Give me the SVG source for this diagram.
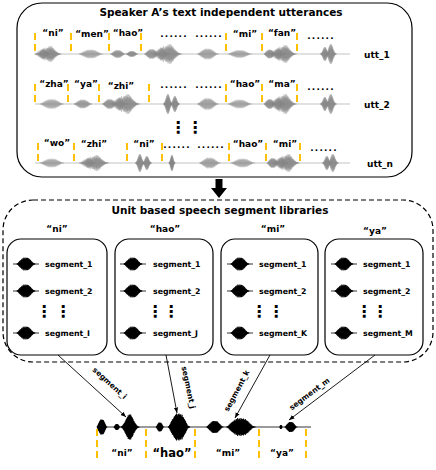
<svg xmlns="http://www.w3.org/2000/svg" width="436" height="470" viewBox="0 0 436 470">
<style>
text{font-family:"DejaVu Sans",Verdana,sans-serif;font-weight:bold;fill:#000}
.t{font-size:10.5px;text-anchor:middle}
.q{font-size:9px;text-anchor:middle}
.dd{font-size:9px;text-anchor:middle;letter-spacing:1.2px}
.vd{font-size:16px;text-anchor:middle}
.u{font-size:9px}
.s{font-size:7.8px}
.cl{font-size:7.5px;text-anchor:middle}
.mk{stroke:#FFC000;stroke-width:2;stroke-dasharray:7 4;fill:none}
.base{stroke:#aaa;stroke-width:0.7}
.g{stroke:#8a8a8a;stroke-width:0.5;stroke-opacity:0.85}
.k{stroke:#000;stroke-width:1}
.kb{stroke:#000;stroke-width:1.1}
.box{fill:none;stroke:#000;stroke-width:1.2}
.conn{stroke:#000;stroke-width:0.9;fill:none;marker-end:url(#ah)}
</style>
<defs>
<marker id="ah" viewBox="0 0 10 10" refX="10" refY="5" markerWidth="6" markerHeight="6" orient="auto"><path d="M0,1 L10,5 L0,9z" fill="#000"/></marker>
<path id="b" vector-effect="non-scaling-stroke" fill="none" d="M-15-.3v.6M-14.5-.4v.8M-14-.6v1.2M-13.5-.3v.6M-13-1v2M-12.5-.5v1M-12-1.4v2.8M-11.5-.8v1.6M-11-2.2v4.4M-10.5-1v2M-10-2.8v5.6M-9.5-1.5v3M-9-3.5v7M-8.5-2v4M-8-4.5v9M-7.5-2.5v5M-7-5.5v11M-6.5-3v6M-6-6.5v13M-5.5-4v8M-5-7.5v15M-4.5-3.5v7M-4-8v16M-3.5-5v10M-3-9.5v19M-2.5-6v12M-2-8.5v17M-1.5-4.5v9M-1-10v20M-.5-7v14M0-9v18M.5-5.5v11M1-10v20M1.5-6.5v13M2-9v18M2.5-4.5v9M3-8v16M3.5-6.5v13M4-7.5v15M4.5-3.5v7M5-6.5v13M5.5-4.5v9M6-5v10M6.5-2.5v5M7-4.5v9M7.5-2.5v5M8-3.5v7M8.5-1.8v3.6M9-2.8v5.6M9.5-1.2v2.4M10-2.2v4.4M10.5-1v2M11-1.5v3M11.5-.6v1.2M12-1v2M12.5-.5v1M13-.7v1.4M13.5-.3v.6M14-.5v1M14.5-.3v.6M15-.3v.6"/>
<path id="c" vector-effect="non-scaling-stroke" fill="none" d="M-15-.3v.6M-14.5-.8v1.6M-14-.5v1M-13.5-1.5v3M-13-1v2M-12.5-2.5v5M-12-1.5v3M-11.5-3.5v7M-11-2v4M-10.5-4.5v9M-10-3v6M-9.5-5.5v11M-9-3.5v7M-8.5-6v12M-8-4.5v9M-7.5-7v14M-7-5v10M-6.5-8v16M-6-5.5v11M-5.5-7v14M-5-9v18M-4.5-6v12M-4-8v16M-3.5-10v20M-3-6.5v13M-2.5-8.5v17M-2-7v14M-1.5-9.5v19M-1-6v12M-.5-8v16M0-10v20M.5-7v14M1-9v18M1.5-6v12M2-8.5v17M2.5-9.5v19M3-6.5v13M3.5-8v16M4-5.5v11M4.5-9v18M5-6v12M5.5-7.5v15M6-5v10M6.5-7v14M7-4.5v9M7.5-6v12M8-3.5v7M8.5-5v10M9-3v6M9.5-4v8M10-2.5v5M10.5-3v6M11-1.5v3M11.5-2v4M12-1v2M12.5-1.2v2.4M13-.6v1.2M13.5-.8v1.6M14-.4v.8M14.5-.5v1M15-.3v.6"/>
<g id="w"><use href="#c" transform="scale(1,0.8)"/><use href="#b" transform="translate(3,0) scale(0.7,1)"/><use href="#b" transform="translate(-5,0) scale(0.5,0.6)"/></g>
<g id="ic"><line x1="-13" y1="0" x2="13" y2="0" stroke="#000" stroke-width="0.8"/><use href="#c" class="k" transform="scale(0.6,0.65)"/><ellipse rx="5" ry="4" fill="#000"/></g>
</defs>

<g id="utterances">
<rect class="box" x="17" y="3" width="395" height="174" rx="25"/>
<text class="t" x="221" y="16">Speaker A’s text independent utterances</text>
<g id="utt1">
<line class="base" x1="35" y1="54" x2="350" y2="54"/>
<g class="g">
<use href="#w" transform="translate(48,54) scale(0.9,0.8)"/>
<use href="#c" transform="translate(91,54) scale(0.8,0.45)"/>
<use href="#c" transform="translate(118,54) scale(0.5,0.4)"/>
<use href="#c" transform="translate(132,54) scale(0.4,0.3)"/>
<use href="#c" transform="translate(152,54) scale(0.5,0.5)"/>
<use href="#w" transform="translate(167,54) scale(1,1)"/>
<use href="#c" transform="translate(208,54) scale(0.7,0.55)"/>
<use href="#c" transform="translate(240,54) scale(0.8,0.4)"/>
<use href="#c" transform="translate(270,54) scale(0.4,0.45)"/>
<use href="#w" transform="translate(283,54) scale(0.9,0.9)"/>
<use href="#b" transform="translate(325,54) scale(0.3,0.7)"/>
<use href="#b" transform="translate(331,54) scale(0.35,1)"/>
</g>
<path class="mk" d="M35,33V55M71,33V55M109,33V55M141,33V55M226,33V55M262,33V55M297,33V55"/>
<text class="q" x="53" y="36">“ni”</text>
<text class="q" x="92" y="37">“men”</text>
<text class="q" x="128" y="36">“hao”</text>
<text class="dd" x="174" y="37">......</text>
<text class="dd" x="209" y="37">......</text>
<text class="q" x="245" y="37">“mi”</text>
<text class="q" x="282" y="36">“fan”</text>
<text class="dd" x="321" y="39">......</text>
<text class="u" x="364" y="58">utt_1</text>
</g>
<g id="utt2">
<line class="base" x1="35" y1="104" x2="350" y2="104"/>
<g class="g">
<use href="#c" transform="translate(52,104) scale(0.8,0.5)"/>
<use href="#c" transform="translate(83,104) scale(0.6,0.45)"/>
<use href="#c" transform="translate(110,104) scale(0.5,0.5)"/>
<use href="#w" transform="translate(125,104) scale(1,1)"/>
<use href="#b" transform="translate(168,104) scale(0.3,1)"/>
<use href="#b" transform="translate(175,104) scale(0.3,0.8)"/>
<use href="#c" transform="translate(208,104) scale(0.7,0.6)"/>
<use href="#c" transform="translate(240,104) scale(0.8,0.45)"/>
<use href="#c" transform="translate(270,104) scale(0.4,0.5)"/>
<use href="#w" transform="translate(283,104) scale(0.9,1)"/>
<use href="#b" transform="translate(325,104) scale(0.3,0.7)"/>
<use href="#b" transform="translate(331,104) scale(0.35,1)"/>
</g>
<path class="mk" d="M35,84V105M68,84V105M99,84V105M149,84V105M226,84V105M262,84V105M297,84V105"/>
<text class="q" x="54" y="87">“zha”</text>
<text class="q" x="86" y="87">“ya”</text>
<text class="q" x="121" y="89">“zhi”</text>
<text class="dd" x="174" y="88">......</text>
<text class="dd" x="209" y="88">......</text>
<text class="q" x="245" y="87">“hao”</text>
<text class="q" x="282" y="87">“ma”</text>
<text class="dd" x="321" y="90">......</text>
<text class="u" x="364" y="108">utt_2</text>
</g>
<text class="vd" x="178" y="133">⋮</text>
<text class="vd" x="195" y="133">⋮</text>
<g id="uttn">
<line class="base" x1="35" y1="163" x2="350" y2="163"/>
<g class="g">
<use href="#c" transform="translate(52,163) scale(0.8,0.45)"/>
<use href="#w" transform="translate(94,163) scale(1,0.8)"/>
<use href="#b" transform="translate(140,163) scale(0.3,0.9)"/>
<use href="#b" transform="translate(147,163) scale(0.3,0.7)"/>
<use href="#b" transform="translate(172,163) scale(0.2,0.8)"/>
<use href="#c" transform="translate(210,163) scale(0.7,0.55)"/>
<use href="#c" transform="translate(243,163) scale(0.8,0.45)"/>
<use href="#c" transform="translate(273,163) scale(0.4,0.5)"/>
<use href="#w" transform="translate(286,163) scale(0.9,0.9)"/>
<use href="#b" transform="translate(327,163) scale(0.3,0.7)"/>
<use href="#b" transform="translate(333,163) scale(0.35,0.9)"/>
</g>
<path class="mk" d="M38,143V165M74,143V165M127,143V165M162,143V165M229,143V165M266,143V165M300,143V165"/>
<text class="q" x="57" y="146">“wo”</text>
<text class="q" x="94" y="147">“zhi”</text>
<text class="q" x="144" y="147">“ni”</text>
<text class="dd" x="177" y="148">......</text>
<text class="dd" x="211" y="148">......</text>
<text class="q" x="248" y="147">“hao”</text>
<text class="q" x="285" y="147">“mi”</text>
<text class="dd" x="324" y="151">......</text>
<text class="u" x="367" y="167">utt_n</text>
</g>
</g>

<g id="bigarrow">
<polygon points="215.5,179 222.5,179 222.5,188 227,188 219,198 211,188 215.5,188" fill="#000"/>
</g>

<g id="libraries">
<rect class="box" x="3" y="200" width="430" height="162" rx="30" stroke-dasharray="5 3"/>
<text class="t" x="220" y="214">Unit based speech segment libraries</text>
</g>

<g id="lib-ni">
<text class="q" x="57" y="232">“ni”</text>
<rect class="box" x="7" y="239" width="100" height="116" rx="14"/>
<use href="#ic" x="26" y="264"/><use href="#ic" x="26" y="291"/><use href="#ic" x="26" y="333"/>
<text class="s" x="45" y="267">segment_1</text>
<text class="s" x="45" y="294">segment_2</text>
<text class="vd" x="44" y="317">⋮</text><text class="vd" x="63" y="317">⋮</text>
<text class="s" x="45" y="336">segment_I</text>
</g>
<g id="lib-hao">
<text class="q" x="165" y="232">“hao”</text>
<rect class="box" x="115" y="239" width="98" height="116" rx="14"/>
<use href="#ic" x="133" y="264"/><use href="#ic" x="133" y="291"/><use href="#ic" x="133" y="333"/>
<text class="s" x="153" y="267">segment_1</text>
<text class="s" x="153" y="294">segment_2</text>
<text class="vd" x="155" y="317">⋮</text><text class="vd" x="171" y="317">⋮</text>
<text class="s" x="153" y="336">segment_J</text>
</g>
<g id="lib-mi">
<text class="q" x="273" y="232">“mi”</text>
<rect class="box" x="221" y="239" width="97" height="116" rx="14"/>
<use href="#ic" x="240" y="264"/><use href="#ic" x="240" y="291"/><use href="#ic" x="240" y="333"/>
<text class="s" x="259" y="267">segment_1</text>
<text class="s" x="259" y="294">segment_2</text>
<text class="vd" x="259" y="317">⋮</text><text class="vd" x="276" y="317">⋮</text>
<text class="s" x="259" y="336">segment_K</text>
</g>
<g id="lib-ya">
<text class="q" x="375" y="234">“ya”</text>
<rect class="box" x="325" y="239" width="98" height="116" rx="14"/>
<use href="#ic" x="344" y="264"/><use href="#ic" x="344" y="291"/><use href="#ic" x="344" y="333"/>
<text class="s" x="363" y="267">segment_1</text>
<text class="s" x="363" y="294">segment_2</text>
<text class="vd" x="364" y="317">⋮</text><text class="vd" x="380" y="317">⋮</text>
<text class="s" x="363" y="336">segment_M</text>
</g>

<g id="connectors">
<line class="conn" x1="58" y1="355" x2="126" y2="417"/>
<line class="conn" x1="166" y1="355" x2="177" y2="413"/>
<line class="conn" x1="270" y1="355" x2="235" y2="418"/>
<line class="conn" x1="375" y1="355" x2="289" y2="420"/>
<text class="cl" transform="translate(108,385) rotate(42.4)">segment_i</text>
<text class="cl" transform="translate(186,388) rotate(78)">segment_j</text>
<text class="cl" transform="translate(239,392) rotate(-62)">segment_k</text>
<text class="cl" transform="translate(311,396) rotate(-37)">segment_m</text>
</g>

<g id="output">
<line x1="97" y1="427" x2="311" y2="427" stroke="#000" stroke-width="0.8"/>
<g class="kb">
<use href="#c" transform="translate(102,427) scale(0.33,0.75)"/>
<use href="#c" transform="translate(117,427) scale(0.2,0.3)"/>
<use href="#b" transform="translate(130,427) scale(0.6,1.25)"/>
<use href="#c" transform="translate(160,427) scale(0.25,0.45)"/>
<use href="#c" transform="translate(179,427) scale(0.7,1.35)"/>
<use href="#c" transform="translate(215,427) scale(0.55,0.6)"/>
<use href="#c" transform="translate(241,427) scale(0.95,0.9)"/>
<use href="#c" transform="translate(281,427) scale(0.08,0.2)"/>
<use href="#c" transform="translate(291,427) scale(0.4,0.5)"/>
</g>
<ellipse cx="179" cy="427" rx="8" ry="10" fill="#000"/>
<path class="mk" d="M97,429V460M146,429V460M195,429V460M259,429V460M306,429V460"/>
<text class="q" x="122" y="456">“ni”</text>
<text class="q" x="172" y="457" style="font-size:11.5px">“hao”</text>
<text class="q" x="228" y="456">“mi”</text>
<text class="q" x="282" y="456">“ya”</text>
</g>
</svg>
